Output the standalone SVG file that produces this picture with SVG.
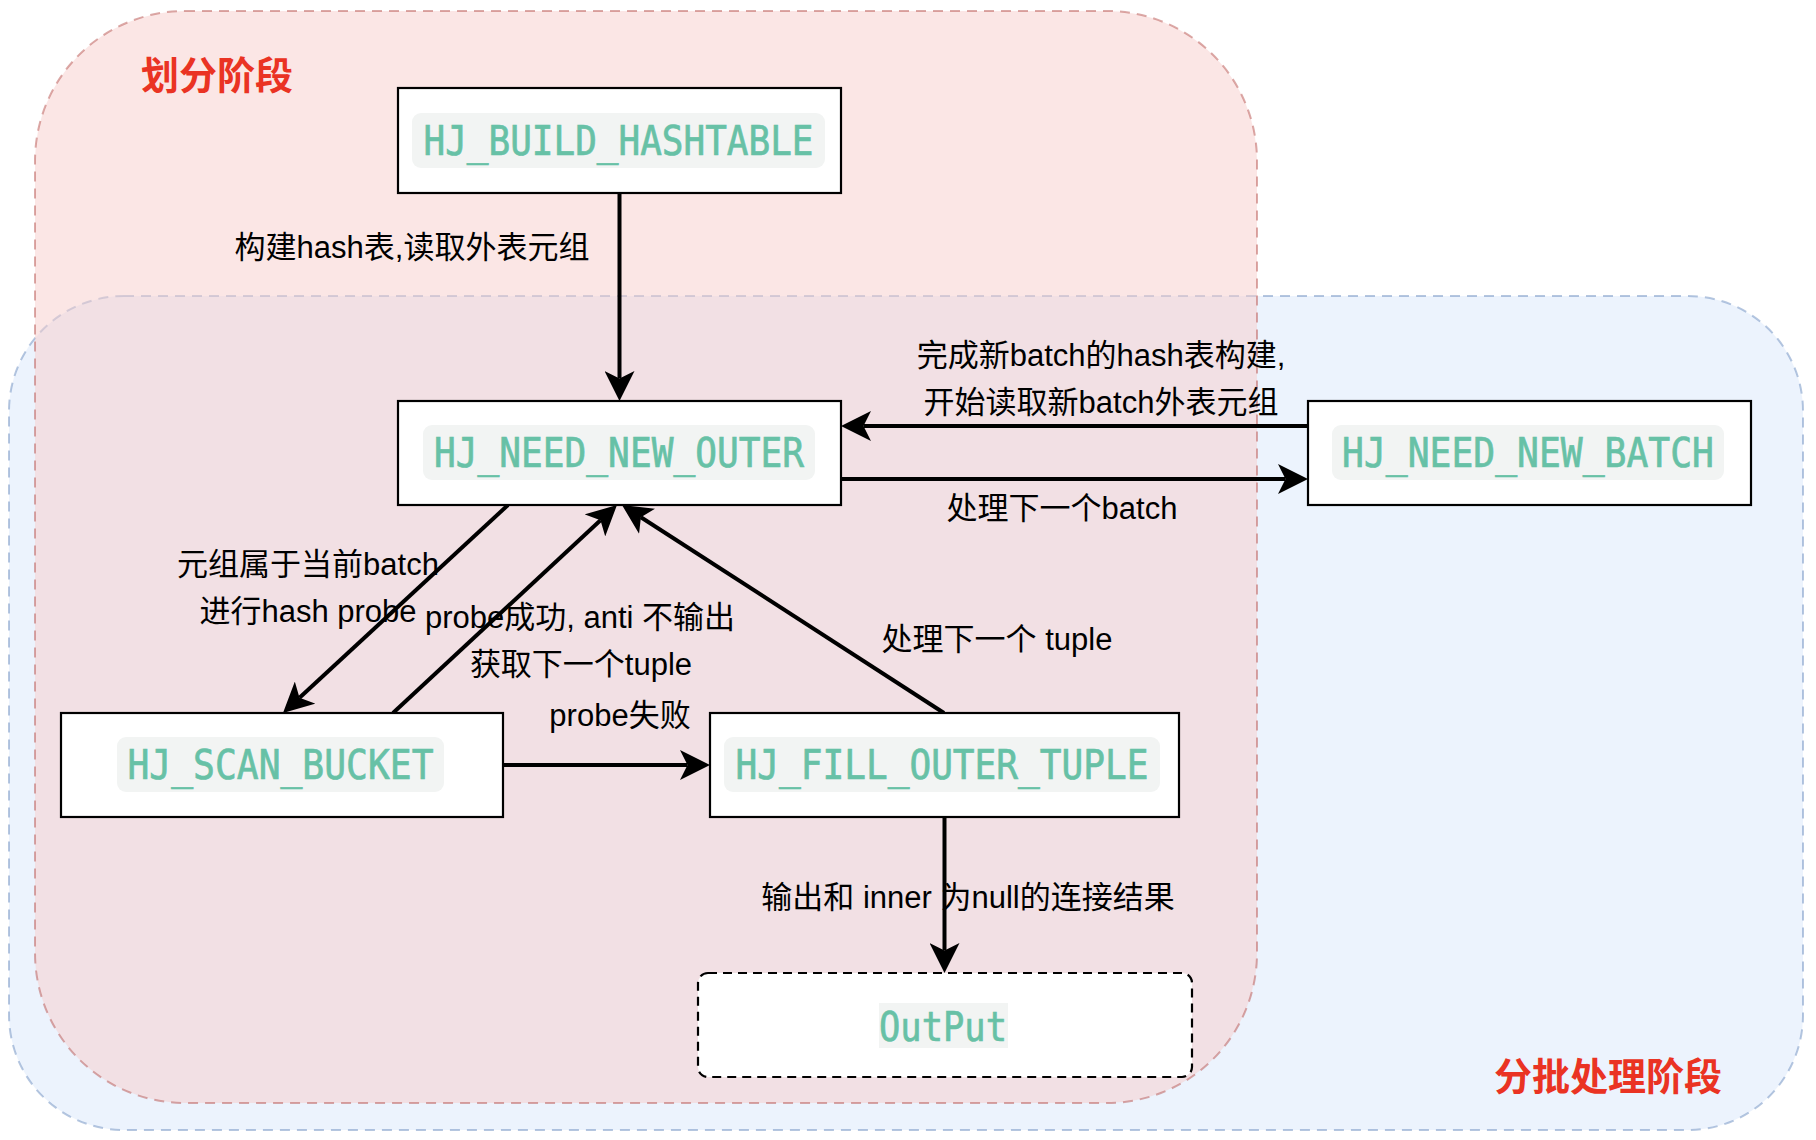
<svg xmlns="http://www.w3.org/2000/svg" width="1816" height="1140" viewBox="0 0 1816 1140">
<style>
.grp-red{fill:#f8cecc;fill-opacity:0.5;stroke:#b85450;stroke-opacity:0.5;stroke-width:2;stroke-dasharray:10 7}
.grp-blue{fill:#dae8fc;fill-opacity:0.5;stroke:#6c8ebf;stroke-opacity:0.5;stroke-width:2;stroke-dasharray:10 7}
.node{fill:#ffffff;stroke:#000000;stroke-width:2.2}
.out{fill:#ffffff;stroke:#000000;stroke-width:2.2;stroke-dasharray:9 6}
.hl{fill:#f2f4f3}
.code{font-family:"DejaVu Sans Mono","Liberation Mono",monospace;font-size:40px;fill:#67c1a6;stroke:#67c1a6;stroke-width:0.7;text-anchor:middle}
.lbl{font-family:"Liberation Sans","Noto Sans CJK SC",sans-serif;font-size:31px;fill:#000000;text-anchor:middle}
.title{font-family:"Liberation Sans","Noto Sans CJK SC",sans-serif;font-size:38px;font-weight:bold;fill:#ea3323;text-anchor:middle}
.edge{fill:none;stroke:#000000;stroke-width:4}
</style>
<defs>
<marker id="arr" viewBox="0 0 30 30" refX="7.5" refY="15" markerWidth="30" markerHeight="30" markerUnits="userSpaceOnUse" orient="auto">
<path d="M30,15 L0,0 L7.5,15 L0,30 Z" fill="#000000"/>
</marker>
</defs>
<g id="group-batch">
<rect class="grp-blue" x="9" y="296" width="1794" height="834" rx="115" ry="115"/>
<text class="title" x="1608" y="1090">分批处理阶段</text>
</g>
<g id="group-partition">
<rect class="grp-red" x="35" y="11" width="1222" height="1092" rx="150" ry="150"/>
<text class="title" x="217" y="89">划分阶段</text>
</g>
<g id="connectors">
<path class="edge" marker-end="url(#arr)" d="M619.5,193 L619.5,378.5"/>
<path class="edge" marker-end="url(#arr)" d="M1308,426 L863.5,426"/>
<path class="edge" marker-end="url(#arr)" d="M841,479 L1285.5,479"/>
<path class="edge" marker-end="url(#arr)" d="M508,505 L299.5,697.7"/>
<path class="edge" marker-end="url(#arr)" d="M393,713 L600.5,520.3"/>
<path class="edge" marker-end="url(#arr)" d="M944,713 L640.9,517.2"/>
<path class="edge" marker-end="url(#arr)" d="M503,765 L687.5,765"/>
<path class="edge" marker-end="url(#arr)" d="M944.5,817 L944.5,950.5"/>
<text class="lbl" x="412" y="258">构建hash表,读取外表元组</text>
<text class="lbl" x="1101" y="366">完成新batch的hash表构建,</text>
<text class="lbl" x="1101" y="413">开始读取新batch外表元组</text>
<text class="lbl" x="1062" y="519">处理下一个batch</text>
<text class="lbl" x="308" y="575">元组属于当前batch</text>
<text class="lbl" x="308" y="622">进行hash probe</text>
<text class="lbl" x="580" y="628">probe成功, anti 不输出</text>
<text class="lbl" x="581" y="675">获取下一个tuple</text>
<text class="lbl" x="620" y="726">probe失败</text>
<text class="lbl" x="997" y="650">处理下一个 tuple</text>
<text class="lbl" x="968" y="908">输出和 inner 为null的连接结果</text>
</g>
<g id="node-build">
<rect class="node" x="398" y="88" width="443" height="105"/>
<rect class="hl" x="412" y="113" width="413" height="55" rx="9"/>
<text class="code" x="618.5" y="155" textLength="390" lengthAdjust="spacingAndGlyphs">HJ_BUILD_HASHTABLE</text>
</g>
<g id="node-outer">
<rect class="node" x="398" y="401" width="443" height="104"/>
<rect class="hl" x="423" y="425" width="392" height="55" rx="9"/>
<text class="code" x="619" y="467" textLength="370" lengthAdjust="spacingAndGlyphs">HJ_NEED_NEW_OUTER</text>
</g>
<g id="node-batch">
<rect class="node" x="1308" y="401" width="443" height="104"/>
<rect class="hl" x="1332" y="425" width="392" height="55" rx="9"/>
<text class="code" x="1528" y="467" textLength="372" lengthAdjust="spacingAndGlyphs">HJ_NEED_NEW_BATCH</text>
</g>
<g id="node-scan">
<rect class="node" x="61" y="713" width="442" height="104"/>
<rect class="hl" x="117" y="737" width="327" height="55" rx="9"/>
<text class="code" x="280.5" y="779" textLength="306" lengthAdjust="spacingAndGlyphs">HJ_SCAN_BUCKET</text>
</g>
<g id="node-fill">
<rect class="node" x="710" y="713" width="469" height="104"/>
<rect class="hl" x="724" y="737" width="436" height="55" rx="9"/>
<text class="code" x="942" y="779" textLength="413" lengthAdjust="spacingAndGlyphs">HJ_FILL_OUTER_TUPLE</text>
</g>
<g id="node-output">
<rect class="out" x="698" y="973" width="494" height="104" rx="10"/>
<rect class="hl" x="879" y="1003" width="129" height="45"/>
<text class="code" x="943" y="1041" textLength="128" lengthAdjust="spacingAndGlyphs">OutPut</text>
</g>
</svg>
